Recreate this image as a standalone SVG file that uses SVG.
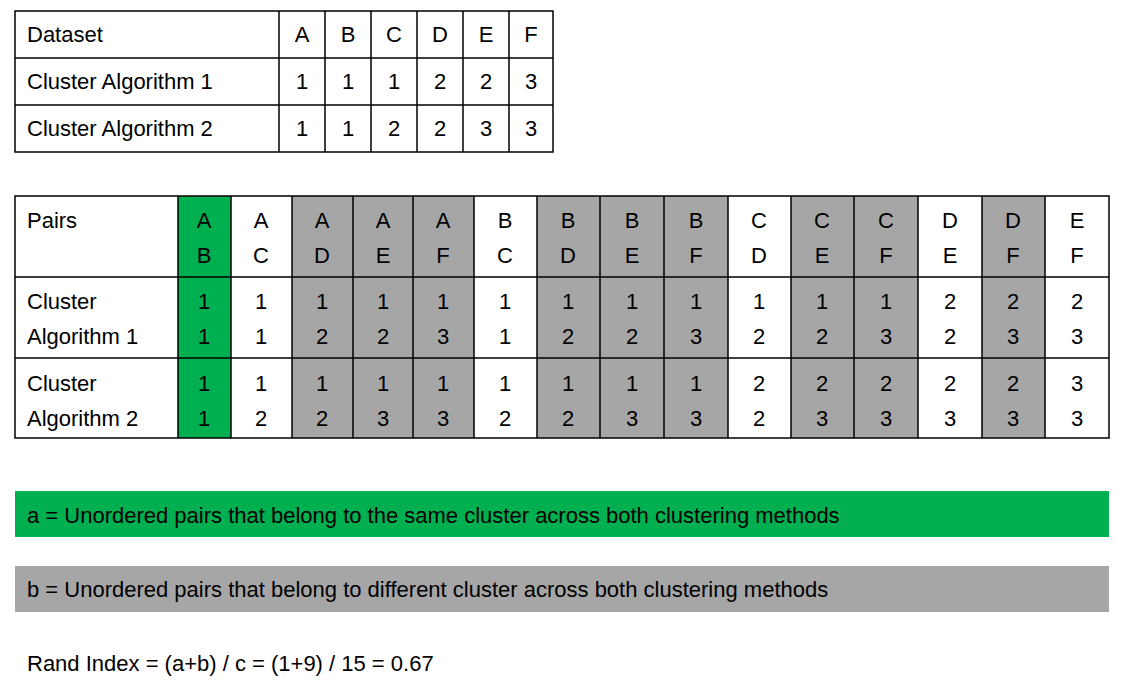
<svg xmlns="http://www.w3.org/2000/svg" width="1126" height="690" viewBox="0 0 1126 690">
<style>
text{font-family:"Liberation Sans",Arial,sans-serif;font-size:22px;fill:#000}
.c{text-anchor:middle}
.g{fill:#A6A6A6}
.gr{fill:#00B050}
.ln{stroke:#000;stroke-width:1.5;fill:none}
</style>
<rect width="1126" height="690" fill="#fff"/>
<g id="table1">
<rect class="ln" x="15" y="11" width="538" height="141"/>
<path class="ln" d="M15 58H553M15 105H553M279 11V152M325 11V152M371 11V152M417 11V152M463 11V152M509 11V152"/>
<text x="27" y="42">Dataset</text><text x="27" y="89">Cluster Algorithm 1</text><text x="27" y="136">Cluster Algorithm 2</text>
<g class="c">
<text x="302" y="42" class="c">A</text><text x="348" y="42" class="c">B</text><text x="394" y="42" class="c">C</text><text x="440" y="42" class="c">D</text><text x="486" y="42" class="c">E</text><text x="531" y="42" class="c">F</text>
<text x="302" y="89" class="c">1</text><text x="348" y="89" class="c">1</text><text x="394" y="89" class="c">1</text><text x="440" y="89" class="c">2</text><text x="486" y="89" class="c">2</text><text x="531" y="89" class="c">3</text>
<text x="302" y="136" class="c">1</text><text x="348" y="136" class="c">1</text><text x="394" y="136" class="c">2</text><text x="440" y="136" class="c">2</text><text x="486" y="136" class="c">3</text><text x="531" y="136" class="c">3</text>
</g>
</g>
<g id="table2">
<rect class="gr" x="178" y="196" width="53" height="242"/>
<rect class="g" x="292" y="196" width="182" height="242"/>
<rect class="g" x="537" y="196" width="191" height="242"/>
<rect class="g" x="791" y="196" width="127" height="242"/>
<rect class="g" x="982" y="196" width="63" height="242"/>
<rect class="ln" x="15" y="196" width="1094" height="242"/>
<path class="ln" d="M15 277H1109M15 358H1109M178 196V438M231 196V438M292 196V438M353 196V438M413 196V438M474 196V438M537 196V438M600 196V438M664 196V438M728 196V438M791 196V438M854 196V438M918 196V438M982 196V438M1045 196V438"/>
<text x="27" y="228">Pairs</text>
<text x="27" y="309">Cluster</text><text x="27" y="344">Algorithm 1</text>
<text x="27" y="391">Cluster</text><text x="27" y="426">Algorithm 2</text>
<g>
<text class="c" x="204" y="228">A</text><text class="c" x="204" y="263">B</text><text class="c" x="204" y="309">1</text><text class="c" x="204" y="344">1</text><text class="c" x="204" y="391">1</text><text class="c" x="204" y="426">1</text>
<text class="c" x="261" y="228">A</text><text class="c" x="261" y="263">C</text><text class="c" x="261" y="309">1</text><text class="c" x="261" y="344">1</text><text class="c" x="261" y="391">1</text><text class="c" x="261" y="426">2</text>
<text class="c" x="322" y="228">A</text><text class="c" x="322" y="263">D</text><text class="c" x="322" y="309">1</text><text class="c" x="322" y="344">2</text><text class="c" x="322" y="391">1</text><text class="c" x="322" y="426">2</text>
<text class="c" x="383" y="228">A</text><text class="c" x="383" y="263">E</text><text class="c" x="383" y="309">1</text><text class="c" x="383" y="344">2</text><text class="c" x="383" y="391">1</text><text class="c" x="383" y="426">3</text>
<text class="c" x="443" y="228">A</text><text class="c" x="443" y="263">F</text><text class="c" x="443" y="309">1</text><text class="c" x="443" y="344">3</text><text class="c" x="443" y="391">1</text><text class="c" x="443" y="426">3</text>
<text class="c" x="505" y="228">B</text><text class="c" x="505" y="263">C</text><text class="c" x="505" y="309">1</text><text class="c" x="505" y="344">1</text><text class="c" x="505" y="391">1</text><text class="c" x="505" y="426">2</text>
<text class="c" x="568" y="228">B</text><text class="c" x="568" y="263">D</text><text class="c" x="568" y="309">1</text><text class="c" x="568" y="344">2</text><text class="c" x="568" y="391">1</text><text class="c" x="568" y="426">2</text>
<text class="c" x="632" y="228">B</text><text class="c" x="632" y="263">E</text><text class="c" x="632" y="309">1</text><text class="c" x="632" y="344">2</text><text class="c" x="632" y="391">1</text><text class="c" x="632" y="426">3</text>
<text class="c" x="696" y="228">B</text><text class="c" x="696" y="263">F</text><text class="c" x="696" y="309">1</text><text class="c" x="696" y="344">3</text><text class="c" x="696" y="391">1</text><text class="c" x="696" y="426">3</text>
<text class="c" x="759" y="228">C</text><text class="c" x="759" y="263">D</text><text class="c" x="759" y="309">1</text><text class="c" x="759" y="344">2</text><text class="c" x="759" y="391">2</text><text class="c" x="759" y="426">2</text>
<text class="c" x="822" y="228">C</text><text class="c" x="822" y="263">E</text><text class="c" x="822" y="309">1</text><text class="c" x="822" y="344">2</text><text class="c" x="822" y="391">2</text><text class="c" x="822" y="426">3</text>
<text class="c" x="886" y="228">C</text><text class="c" x="886" y="263">F</text><text class="c" x="886" y="309">1</text><text class="c" x="886" y="344">3</text><text class="c" x="886" y="391">2</text><text class="c" x="886" y="426">3</text>
<text class="c" x="950" y="228">D</text><text class="c" x="950" y="263">E</text><text class="c" x="950" y="309">2</text><text class="c" x="950" y="344">2</text><text class="c" x="950" y="391">2</text><text class="c" x="950" y="426">3</text>
<text class="c" x="1013" y="228">D</text><text class="c" x="1013" y="263">F</text><text class="c" x="1013" y="309">2</text><text class="c" x="1013" y="344">3</text><text class="c" x="1013" y="391">2</text><text class="c" x="1013" y="426">3</text>
<text class="c" x="1077" y="228">E</text><text class="c" x="1077" y="263">F</text><text class="c" x="1077" y="309">2</text><text class="c" x="1077" y="344">3</text><text class="c" x="1077" y="391">3</text><text class="c" x="1077" y="426">3</text>
</g>
</g>
<g id="legend-a">
<rect class="gr" x="15" y="491" width="1094" height="46"/>
<text x="27" y="523">a = Unordered pairs that belong to the same cluster across both clustering methods</text>
</g>
<g id="legend-b">
<rect class="g" x="15" y="566" width="1094" height="46"/>
<text x="27" y="597">b = Unordered pairs that belong to different cluster across both clustering methods</text>
</g>
<text x="27" y="671">Rand Index = (a+b) / c = (1+9) / 15 = 0.67</text>
</svg>
